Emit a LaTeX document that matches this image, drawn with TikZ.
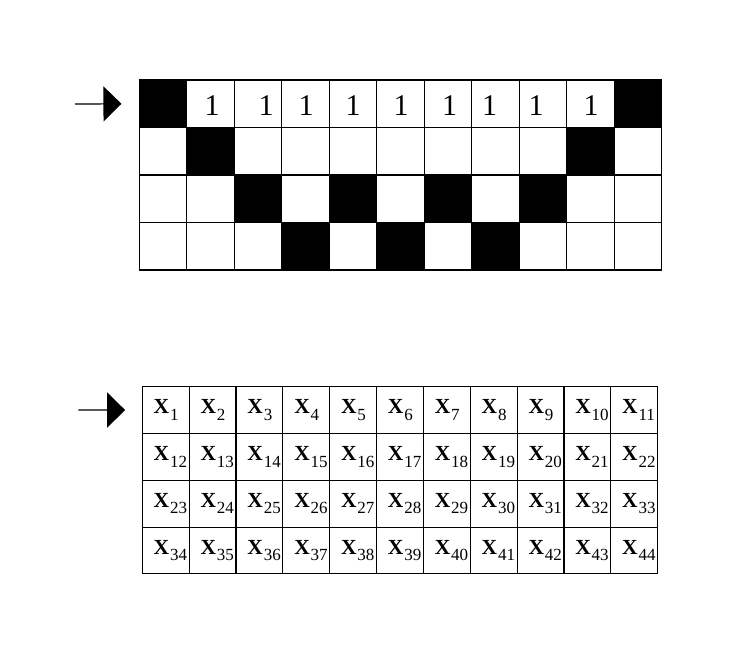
\documentclass[tikz,border=0pt]{standalone}
\usepackage{fontspec}
\setmainfont{Liberation Serif}
\usetikzlibrary{arrows.meta}
\newcommand\xlab[1]{\mbox{{\fontsize{21.5}{21.5}\selectfont\bfseries X}\kern0.8pt\raisebox{-6.5pt}{\fontsize{17}{17}\selectfont #1}}}
\tikzset{
  cellA/.style={draw, line width=1.1pt, minimum width=47.5pt, minimum height=47.5pt, inner sep=0pt},
  cellB/.style={draw, line width=1.1pt, minimum width=46.85pt, minimum height=46.8pt, inner sep=0pt, text width=24pt, align=left},
  onelab/.style={inner sep=0pt, font=\fontsize{30}{30}\selectfont},
  inarrow/.style={line width=1.2pt, -{Triangle[length=18pt,width=35pt]}},
}
\begin{document}
\begin{tikzpicture}[x=1pt,y=-1pt]
\useasboundingbox (0,0) rectangle (736,653);
% top grid
\foreach \r in {1,...,4}{
  \foreach \c in {1,...,11}{
    \node[cellA] (t-\r-\c) at ({139.3+47.5*(\c-0.5)},{80+47.5*(\r-0.5)}) {};
  }
}
\foreach \r/\c in {1/1,1/11,2/2,2/10,3/3,3/5,3/7,3/9,4/4,4/6,4/8}{
  \fill[black] (t-\r-\c.south west) rectangle (t-\r-\c.north east);
}
\foreach \c/\dx in {2/1.5,3/8,4/0.5,5/0,6/0.5,7/1.5,8/-6,9/-7,10/0.5}{
  \node[onelab] (one-\c) at ([xshift=\dx pt, yshift=-1.5pt]t-1-\c.center) {1};
}
\coordinate (ta) at (75,104);
\draw[inarrow, shorten >=17.3pt] (ta) -- (t-1-1.west);
% bottom grid
\foreach \r in {1,...,4}{
  \foreach \c in {1,...,11}{
    \pgfmathtruncatemacro\n{(\r-1)*11+\c}
    \node[cellB] (b-\r-\c) at ({142.3+46.85*(\c-0.5)},{386.7+46.8*(\r-0.5)}) {\xlab{\n}};
  }
}
\coordinate (ba) at (78.3,410);
\draw[inarrow, shorten >=16.6pt] (ba) -- (b-1-1.west);
\end{tikzpicture}
\end{document}
